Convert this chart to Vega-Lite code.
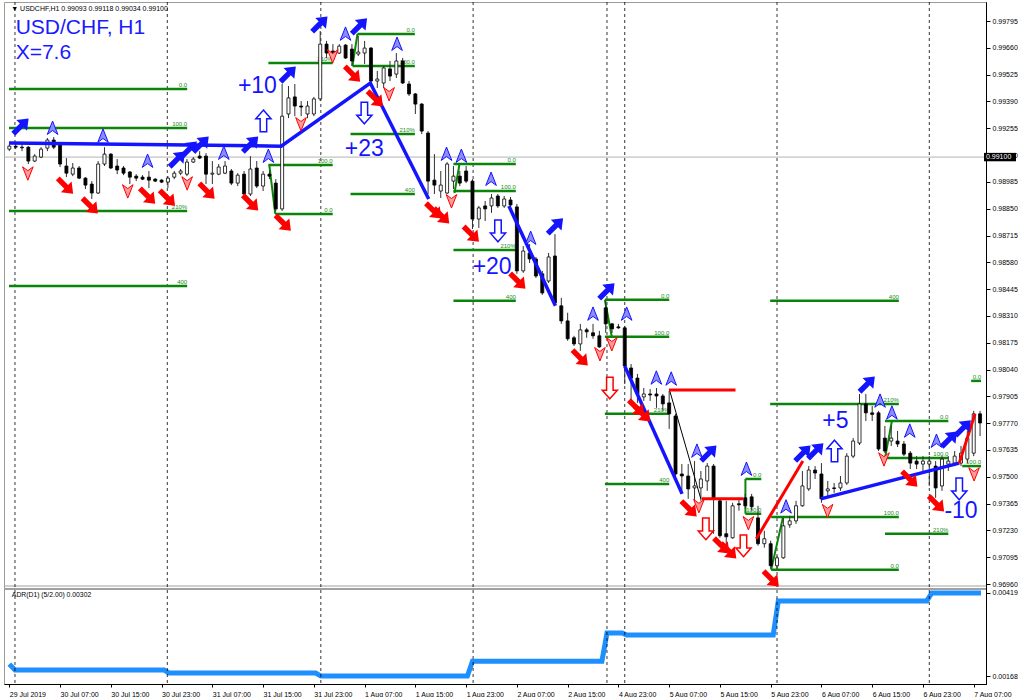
{
"$schema":"https://vega.github.io/schema/vega-lite/v6.json",
"background":"white",
"padding":{"left":3,"top":1,"right":0,"bottom":0},
"width":982,"height":682,
"config":{"view":{"stroke":"#9b9b9b"},
"axis":{"labelFont":"Liberation Sans","labelFontSize":7,"labelColor":"black","domainColor":"black","tickColor":"black","grid":false,"tickSize":4,"labelPadding":2,"labelOverlap":false},
"text":{"font":"Liberation Sans"}},
"resolve":{"scale":{"y":"independent"},"axis":{"y":"independent"}},
"datasets":{
"sep":[{"i":0.89},{"i":24.9},{"i":49.1},{"i":73.1},{"i":94.2},{"i":97.0},{"i":121.0},{"i":145.0}],
"candles":[
{"i":0,"o":0.9915,"h":0.99175,"l":0.9914,"c":0.99165},
{"i":1,"o":0.99165,"h":0.99181,"l":0.9915,"c":0.9916},
{"i":2,"o":0.9916,"h":0.99181,"l":0.9914,"c":0.99157},
{"i":3,"o":0.9916,"h":0.99165,"l":0.99075,"c":0.9909},
{"i":4,"o":0.9909,"h":0.99125,"l":0.99085,"c":0.99115},
{"i":5,"o":0.9911,"h":0.9916,"l":0.99105,"c":0.9915},
{"i":6,"o":0.99155,"h":0.99206,"l":0.9914,"c":0.99196},
{"i":7,"o":0.99196,"h":0.99211,"l":0.9915,"c":0.9916},
{"i":8,"o":0.99175,"h":0.99181,"l":0.9906,"c":0.99075},
{"i":9,"o":0.99065,"h":0.99105,"l":0.99009,"c":0.99029},
{"i":10,"o":0.99024,"h":0.9908,"l":0.99014,"c":0.99055},
{"i":11,"o":0.99055,"h":0.99065,"l":0.98999,"c":0.99004},
{"i":12,"o":0.99004,"h":0.99009,"l":0.98949,"c":0.98969},
{"i":13,"o":0.98974,"h":0.98989,"l":0.98899,"c":0.98929},
{"i":14,"o":0.98929,"h":0.9909,"l":0.98924,"c":0.99075},
{"i":15,"o":0.99075,"h":0.9916,"l":0.99065,"c":0.99125},
{"i":16,"o":0.99125,"h":0.9913,"l":0.9905,"c":0.99055},
{"i":17,"o":0.99065,"h":0.991,"l":0.99024,"c":0.99045},
{"i":18,"o":0.99055,"h":0.99065,"l":0.99019,"c":0.99029},
{"i":19,"o":0.99035,"h":0.9904,"l":0.98974,"c":0.99009},
{"i":20,"o":0.99014,"h":0.99024,"l":0.98989,"c":0.99004},
{"i":21,"o":0.99009,"h":0.99019,"l":0.98994,"c":0.98999},
{"i":22,"o":0.99009,"h":0.9904,"l":0.98954,"c":0.98994},
{"i":23,"o":0.98999,"h":0.99004,"l":0.98984,"c":0.98989},
{"i":24,"o":0.98994,"h":0.98999,"l":0.98979,"c":0.98984},
{"i":25,"o":0.98984,"h":0.99014,"l":0.98954,"c":0.99004},
{"i":26,"o":0.99009,"h":0.9904,"l":0.98999,"c":0.99029},
{"i":27,"o":0.99029,"h":0.9905,"l":0.99019,"c":0.9904},
{"i":28,"o":0.99024,"h":0.991,"l":0.99014,"c":0.99085},
{"i":29,"o":0.99085,"h":0.9911,"l":0.9908,"c":0.991},
{"i":30,"o":0.99115,"h":0.9914,"l":0.991,"c":0.99105},
{"i":31,"o":0.99115,"h":0.9913,"l":0.98974,"c":0.99024},
{"i":32,"o":0.99024,"h":0.9909,"l":0.98974,"c":0.99029},
{"i":33,"o":0.99024,"h":0.99075,"l":0.99019,"c":0.9906},
{"i":34,"o":0.99029,"h":0.9909,"l":0.99024,"c":0.99065},
{"i":35,"o":0.9904,"h":0.9905,"l":0.98969,"c":0.98979},
{"i":36,"o":0.98979,"h":0.99029,"l":0.98964,"c":0.99019},
{"i":37,"o":0.99024,"h":0.9904,"l":0.98914,"c":0.98924},
{"i":38,"o":0.98924,"h":0.99115,"l":0.98914,"c":0.9905},
{"i":39,"o":0.99055,"h":0.9909,"l":0.98954,"c":0.98964},
{"i":40,"o":0.98964,"h":0.9904,"l":0.98939,"c":0.99024},
{"i":41,"o":0.99024,"h":0.9904,"l":0.98999,"c":0.99014},
{"i":42,"o":0.98979,"h":0.98999,"l":0.98839,"c":0.98849},
{"i":43,"o":0.98849,"h":0.99478,"l":0.98839,"c":0.99316},
{"i":44,"o":0.99327,"h":0.99468,"l":0.99306,"c":0.99408},
{"i":45,"o":0.99413,"h":0.99478,"l":0.99316,"c":0.99367},
{"i":46,"o":0.99367,"h":0.99392,"l":0.99316,"c":0.99362},
{"i":47,"o":0.99327,"h":0.99392,"l":0.99306,"c":0.99367},
{"i":48,"o":0.99327,"h":0.99413,"l":0.99316,"c":0.99403},
{"i":49,"o":0.99403,"h":0.99745,"l":0.99392,"c":0.99679},
{"i":50,"o":0.99679,"h":0.99695,"l":0.99609,"c":0.99634},
{"i":51,"o":0.99644,"h":0.99679,"l":0.99609,"c":0.99634},
{"i":52,"o":0.99634,"h":0.99679,"l":0.99629,"c":0.99669},
{"i":53,"o":0.99674,"h":0.99679,"l":0.99604,"c":0.99609},
{"i":54,"o":0.99654,"h":0.99679,"l":0.99569,"c":0.99594},
{"i":55,"o":0.99629,"h":0.9972,"l":0.99619,"c":0.99639},
{"i":56,"o":0.99634,"h":0.99695,"l":0.99579,"c":0.99659},
{"i":57,"o":0.99659,"h":0.99664,"l":0.99478,"c":0.99493},
{"i":58,"o":0.99493,"h":0.99544,"l":0.99458,"c":0.99503},
{"i":59,"o":0.99483,"h":0.99569,"l":0.99458,"c":0.99559},
{"i":60,"o":0.99554,"h":0.99594,"l":0.99493,"c":0.99518},
{"i":61,"o":0.99528,"h":0.99634,"l":0.99508,"c":0.99594},
{"i":62,"o":0.99594,"h":0.99609,"l":0.99478,"c":0.99483},
{"i":63,"o":0.99478,"h":0.99493,"l":0.99418,"c":0.99428},
{"i":64,"o":0.99428,"h":0.99433,"l":0.99327,"c":0.99377},
{"i":65,"o":0.99377,"h":0.99382,"l":0.99226,"c":0.99241},
{"i":66,"o":0.99231,"h":0.99241,"l":0.98924,"c":0.98989},
{"i":67,"o":0.98994,"h":0.99125,"l":0.98924,"c":0.98969},
{"i":68,"o":0.98939,"h":0.9904,"l":0.98904,"c":0.98969},
{"i":69,"o":0.98929,"h":0.99085,"l":0.98924,"c":0.99075},
{"i":70,"o":0.98989,"h":0.99065,"l":0.98949,"c":0.99014},
{"i":71,"o":0.99014,"h":0.9904,"l":0.98964,"c":0.98979},
{"i":72,"o":0.9904,"h":0.99065,"l":0.98979,"c":0.98989},
{"i":73,"o":0.98989,"h":0.98999,"l":0.98748,"c":0.98798},
{"i":74,"o":0.98798,"h":0.98864,"l":0.98753,"c":0.98854},
{"i":75,"o":0.98864,"h":0.98889,"l":0.98788,"c":0.98849},
{"i":76,"o":0.98864,"h":0.98924,"l":0.98829,"c":0.98904},
{"i":77,"o":0.98914,"h":0.98924,"l":0.98854,"c":0.98864},
{"i":78,"o":0.98864,"h":0.98914,"l":0.98854,"c":0.98899},
{"i":79,"o":0.98894,"h":0.98909,"l":0.98839,"c":0.98869},
{"i":80,"o":0.98859,"h":0.98874,"l":0.98522,"c":0.98537},
{"i":81,"o":0.98537,"h":0.98662,"l":0.98527,"c":0.98637},
{"i":82,"o":0.98627,"h":0.98672,"l":0.98577,"c":0.98597},
{"i":83,"o":0.98597,"h":0.98607,"l":0.98501,"c":0.98511},
{"i":84,"o":0.98522,"h":0.98537,"l":0.98416,"c":0.98426},
{"i":85,"o":0.98486,"h":0.98627,"l":0.98476,"c":0.98607},
{"i":86,"o":0.98612,"h":0.98722,"l":0.98371,"c":0.98376},
{"i":87,"o":0.98361,"h":0.98401,"l":0.9827,"c":0.98285},
{"i":88,"o":0.98285,"h":0.98326,"l":0.98185,"c":0.98195},
{"i":89,"o":0.982,"h":0.9821,"l":0.98159,"c":0.98169},
{"i":90,"o":0.98169,"h":0.9827,"l":0.98134,"c":0.9824},
{"i":91,"o":0.9824,"h":0.9825,"l":0.982,"c":0.9823},
{"i":92,"o":0.98225,"h":0.9827,"l":0.98195,"c":0.9821},
{"i":93,"o":0.9821,"h":0.98235,"l":0.98149,"c":0.98154},
{"i":94,"o":0.98351,"h":0.98386,"l":0.98225,"c":0.9827},
{"i":95,"o":0.9827,"h":0.98275,"l":0.98225,"c":0.98245},
{"i":96,"o":0.98255,"h":0.9827,"l":0.98245,"c":0.9825},
{"i":97,"o":0.9825,"h":0.9826,"l":0.97967,"c":0.98058},
{"i":98,"o":0.98048,"h":0.98068,"l":0.97882,"c":0.97997},
{"i":99,"o":0.97997,"h":0.98018,"l":0.97872,"c":0.97917},
{"i":100,"o":0.97902,"h":0.97947,"l":0.97882,"c":0.97917},
{"i":101,"o":0.97917,"h":0.97942,"l":0.97882,"c":0.97912},
{"i":102,"o":0.97917,"h":0.97947,"l":0.97847,"c":0.97907},
{"i":103,"o":0.97907,"h":0.97917,"l":0.97832,"c":0.97867},
{"i":104,"o":0.97872,"h":0.97932,"l":0.97741,"c":0.97817},
{"i":105,"o":0.97806,"h":0.97817,"l":0.97494,"c":0.97514},
{"i":106,"o":0.97514,"h":0.97564,"l":0.97429,"c":0.97504},
{"i":107,"o":0.97504,"h":0.97564,"l":0.97389,"c":0.97439},
{"i":108,"o":0.97444,"h":0.97579,"l":0.97379,"c":0.97454},
{"i":109,"o":0.97444,"h":0.97529,"l":0.97379,"c":0.97489},
{"i":110,"o":0.97479,"h":0.97569,"l":0.97429,"c":0.97554},
{"i":111,"o":0.97554,"h":0.97564,"l":0.97213,"c":0.97389},
{"i":112,"o":0.97379,"h":0.97394,"l":0.97193,"c":0.97203},
{"i":113,"o":0.97213,"h":0.97379,"l":0.97163,"c":0.97198},
{"i":114,"o":0.97193,"h":0.97369,"l":0.97188,"c":0.97354},
{"i":115,"o":0.97364,"h":0.97394,"l":0.97329,"c":0.97359},
{"i":116,"o":0.97394,"h":0.97414,"l":0.97339,"c":0.97354},
{"i":117,"o":0.97399,"h":0.97414,"l":0.97329,"c":0.97349},
{"i":118,"o":0.97293,"h":0.97354,"l":0.97153,"c":0.97163},
{"i":119,"o":0.97163,"h":0.97228,"l":0.97143,"c":0.97188},
{"i":120,"o":0.97163,"h":0.97178,"l":0.97037,"c":0.97052},
{"i":121,"o":0.97052,"h":0.97102,"l":0.97037,"c":0.97092},
{"i":122,"o":0.97092,"h":0.97293,"l":0.97087,"c":0.97253},
{"i":123,"o":0.97258,"h":0.97303,"l":0.97243,"c":0.97278},
{"i":124,"o":0.97278,"h":0.97379,"l":0.97263,"c":0.97354},
{"i":125,"o":0.97354,"h":0.97529,"l":0.97349,"c":0.97454},
{"i":126,"o":0.97439,"h":0.97554,"l":0.97429,"c":0.97534},
{"i":127,"o":0.97534,"h":0.97554,"l":0.97489,"c":0.97519},
{"i":128,"o":0.97514,"h":0.97569,"l":0.97369,"c":0.97389},
{"i":129,"o":0.97429,"h":0.97479,"l":0.97404,"c":0.97439},
{"i":130,"o":0.97444,"h":0.97469,"l":0.97419,"c":0.97441},
{"i":131,"o":0.97444,"h":0.97504,"l":0.97429,"c":0.97469},
{"i":132,"o":0.97469,"h":0.97619,"l":0.97459,"c":0.97604},
{"i":133,"o":0.97604,"h":0.97695,"l":0.97594,"c":0.9768},
{"i":134,"o":0.9767,"h":0.97917,"l":0.9766,"c":0.97867},
{"i":135,"o":0.97867,"h":0.97917,"l":0.97781,"c":0.97822},
{"i":136,"o":0.97822,"h":0.97857,"l":0.97781,"c":0.97814},
{"i":137,"o":0.97822,"h":0.97832,"l":0.9763,"c":0.9764},
{"i":138,"o":0.97695,"h":0.97756,"l":0.9762,"c":0.9763},
{"i":139,"o":0.9768,"h":0.97756,"l":0.97655,"c":0.97695},
{"i":140,"o":0.9768,"h":0.97731,"l":0.9765,"c":0.97665},
{"i":141,"o":0.97665,"h":0.9768,"l":0.97604,"c":0.97614},
{"i":142,"o":0.97619,"h":0.9763,"l":0.97539,"c":0.97569},
{"i":143,"o":0.97579,"h":0.97604,"l":0.97539,"c":0.97564},
{"i":144,"o":0.97564,"h":0.97604,"l":0.97529,"c":0.97579},
{"i":145,"o":0.97564,"h":0.97604,"l":0.97454,"c":0.97579},
{"i":146,"o":0.97554,"h":0.97579,"l":0.97394,"c":0.97444},
{"i":147,"o":0.97454,"h":0.97604,"l":0.97429,"c":0.97589},
{"i":148,"o":0.97564,"h":0.97604,"l":0.97529,"c":0.97579},
{"i":149,"o":0.97569,"h":0.9763,"l":0.97554,"c":0.97604},
{"i":150,"o":0.97569,"h":0.97655,"l":0.97554,"c":0.97619},
{"i":151,"o":0.97589,"h":0.97731,"l":0.97569,"c":0.97695},
{"i":152,"o":0.97619,"h":0.97832,"l":0.97604,"c":0.97817},
{"i":153,"o":0.97817,"h":0.97832,"l":0.97705,"c":0.97771}
],
"levels":[
{"i":-0.05,"i2":28.03,"p":0.99453,"lab":"0.0"},
{"i":-0.05,"i2":28.03,"p":0.99256,"lab":"100.0"},
{"i":-0.05,"i2":28.03,"p":0.98839,"lab":"210%"},
{"i":-0.05,"i2":28.03,"p":0.98461,"lab":"400"},
{"i":54.87,"i2":63.92,"p":0.9973,"lab":"0.0"},
{"i":54.09,"i2":63.92,"p":0.99569,"lab":"100.0"},
{"i":40.83,"i2":50.97,"p":0.99584,"lab":"210%"},
{"i":40.83,"i2":50.97,"p":0.9907,"lab":"100.0"},
{"i":41.92,"i2":50.97,"p":0.98824,"lab":"0.0"},
{"i":53.78,"i2":63.92,"p":0.99226,"lab":"210%"},
{"i":53.78,"i2":63.92,"p":0.98924,"lab":"400"},
{"i":70.0,"i2":79.83,"p":0.99075,"lab":"0.0"},
{"i":70.0,"i2":79.83,"p":0.98939,"lab":"100.0"},
{"i":70.0,"i2":79.83,"p":0.98642,"lab":"210%"},
{"i":70.0,"i2":79.83,"p":0.98386,"lab":"400"},
{"i":93.87,"i2":104.01,"p":0.98391,"lab":"0.0"},
{"i":93.87,"i2":104.01,"p":0.98205,"lab":"100.0"},
{"i":93.87,"i2":104.01,"p":0.97817,"lab":"210%"},
{"i":93.87,"i2":104.01,"p":0.97464,"lab":"400"},
{"i":119.92,"i2":140.2,"p":0.98386,"lab":"400"},
{"i":119.92,"i2":140.2,"p":0.97867,"lab":"210%"},
{"i":120.08,"i2":140.2,"p":0.97298,"lab":"100.0"},
{"i":120.08,"i2":140.2,"p":0.97032,"lab":"0.0"},
{"i":116.02,"i2":118.52,"p":0.97489,"lab":"0.0"},
{"i":116.02,"i2":118.52,"p":0.97314,"lab":"100.0"},
{"i":138.02,"i2":148.0,"p":0.97781,"lab":"0.0"},
{"i":138.02,"i2":148.0,"p":0.97594,"lab":"100.0"},
{"i":138.02,"i2":148.0,"p":0.97213,"lab":"210%"},
{"i":151.6,"i2":153.15,"p":0.97983,"lab":"0.0"},
{"i":150.2,"i2":153.15,"p":0.97554,"lab":"100.0"}
],
"conn":[
{"g":1,"k":0,"i":40.98,"p":0.9907},{"g":1,"k":1,"i":41.92,"p":0.98824},
{"g":2,"k":0,"i":54.87,"p":0.9973},{"g":2,"k":1,"i":54.09,"p":0.99569},
{"g":3,"k":0,"i":70.93,"p":0.9907},{"g":3,"k":1,"i":70.16,"p":0.98929},
{"g":4,"k":0,"i":93.87,"p":0.98391},{"g":4,"k":1,"i":94.96,"p":0.98205},
{"g":5,"k":0,"i":116.02,"p":0.97489},{"g":5,"k":1,"i":116.02,"p":0.97314},
{"g":6,"k":0,"i":120.08,"p":0.97032},{"g":6,"k":1,"i":121.95,"p":0.97298},
{"g":7,"k":0,"i":139.11,"p":0.97781},{"g":7,"k":1,"i":138.02,"p":0.97594}
],
"blue":[
{"g":1,"k":0,"i":-0.05,"p":0.99181},{"g":1,"k":1,"i":42.85,"p":0.99165},{"g":1,"k":2,"i":56.9,"p":0.99483},{"g":1,"k":3,"i":66.1,"p":0.98899},
{"g":2,"k":0,"i":78.74,"p":0.98864},{"g":2,"k":1,"i":86.07,"p":0.98361},
{"g":3,"k":0,"i":96.99,"p":0.98058},{"g":3,"k":1,"i":106.04,"p":0.97414},
{"g":4,"k":0,"i":127.88,"p":0.97389},{"g":4,"k":1,"i":149.72,"p":0.97569}
],
"redl":[
{"g":1,"k":0,"i":117.74,"p":0.97188},{"g":1,"k":1,"i":125.07,"p":0.97579},
{"g":2,"k":0,"i":149.72,"p":0.97569},{"g":2,"k":1,"i":152.21,"p":0.97817}
],
"arr":[
{"t":"bu","i":1.83,"p":0.99266},{"t":"bu","i":26.48,"p":0.991},{"t":"bu","i":28.35,"p":0.9915},{"t":"bu","i":30.22,"p":0.99175},{"t":"bu","i":38.02,"p":0.99175},{"t":"bu","i":43.95,"p":0.99528},{"t":"bu","i":48.94,"p":0.9978},{"t":"bu","i":55.18,"p":0.9977},{"t":"bu","i":86.07,"p":0.98763},{"t":"bu","i":94.18,"p":0.98436},{"t":"bu","i":110.25,"p":0.97619},{"t":"bu","i":125.07,"p":0.97619},{"t":"bu","i":127.1,"p":0.9763},{"t":"bu","i":135.21,"p":0.97967},{"t":"bu","i":148.16,"p":0.9769},{"t":"bu","i":150.34,"p":0.97746},
{"t":"ba","i":6.82,"p":0.99256},{"t":"ba","i":14.77,"p":0.99216},{"t":"ba","i":21.79,"p":0.9909},{"t":"ba","i":33.81,"p":0.9913},{"t":"ba","i":40.83,"p":0.99115},{"t":"ba","i":52.99,"p":0.9973},{"t":"ba","i":61.11,"p":0.99679},{"t":"ba","i":68.91,"p":0.99125},{"t":"ba","i":71.25,"p":0.99115},{"t":"ba","i":75.93,"p":0.98999},{"t":"ba","i":82.17,"p":0.98702},{"t":"ba","i":92.0,"p":0.9832},{"t":"ba","i":97.3,"p":0.9832},{"t":"ba","i":101.98,"p":0.97998},{"t":"ba","i":104.32,"p":0.97993},{"t":"ba","i":108.38,"p":0.9763},{"t":"ba","i":116.18,"p":0.97539},{"t":"ba","i":122.42,"p":0.97349},{"t":"ba","i":137.24,"p":0.97882},{"t":"ba","i":139.11,"p":0.97822},{"t":"ba","i":141.92,"p":0.97731},{"t":"ba","i":146.13,"p":0.9768},
{"t":"rd","i":8.85,"p":0.98964},{"t":"rd","i":12.75,"p":0.98864},{"t":"rd","i":21.79,"p":0.98914},{"t":"rd","i":24.91,"p":0.98904},{"t":"rd","i":31.15,"p":0.98939},{"t":"rd","i":38.02,"p":0.98879},{"t":"rd","i":43.17,"p":0.98778},{"t":"rd","i":54.09,"p":0.99528},{"t":"rd","i":57.68,"p":0.99403},{"t":"rd","i":66.88,"p":0.98839},{"t":"rd","i":68.13,"p":0.98814},{"t":"rd","i":72.81,"p":0.98722},{"t":"rd","i":80.14,"p":0.98486},{"t":"rd","i":89.97,"p":0.98099},{"t":"rd","i":98.86,"p":0.97847},{"t":"rd","i":99.8,"p":0.97817},{"t":"rd","i":107.13,"p":0.97339},{"t":"rd","i":112.28,"p":0.97152},{"t":"rd","i":113.37,"p":0.97127},{"t":"rd","i":120.08,"p":0.96986},{"t":"rd","i":141.92,"p":0.97489},{"t":"rd","i":146.13,"p":0.97364},
{"t":"ra","i":2.92,"p":0.99029},{"t":"ra","i":18.67,"p":0.98939},{"t":"ra","i":28.03,"p":0.98979},{"t":"ra","i":45.97,"p":0.99277},{"t":"ra","i":50.97,"p":0.99619},{"t":"ra","i":59.86,"p":0.99428},{"t":"ra","i":69.69,"p":0.98889},{"t":"ra","i":93.09,"p":0.98119},{"t":"ra","i":94.96,"p":0.98169},{"t":"ra","i":108.69,"p":0.97354},{"t":"ra","i":116.49,"p":0.97268},{"t":"ra","i":128.97,"p":0.97329},{"t":"ra","i":137.86,"p":0.97589},{"t":"ra","i":152.06,"p":0.97514},
{"t":"rh","i":94.65,"p":0.97947},{"t":"rh","i":109.78,"p":0.97238},{"t":"rh","i":115.71,"p":0.97152},
{"t":"bhu","i":40.05,"p":0.99292},{"t":"bhu","i":130.06,"p":0.9763},
{"t":"bhd","i":55.96,"p":0.99332},{"t":"bhd","i":77.02,"p":0.98738},{"t":"bhd","i":149.72,"p":0.97439}
],
"adr":[
{"i":0,"v":0.00204},{"i":0.9,"v":0.00186},{"i":24.4,"v":0.00186},{"i":25.2,"v":0.00177},{"i":48.3,"v":0.00177},{"i":49.1,"v":0.00168},{"i":72.2,"v":0.00168},{"i":73.0,"v":0.00213},{"i":93.4,"v":0.00213},{"i":94.2,"v":0.00298},{"i":96.6,"v":0.00298},{"i":97.3,"v":0.00292},{"i":120.4,"v":0.00292},{"i":121.2,"v":0.00395},{"i":144.6,"v":0.00395},{"i":145.4,"v":0.00419},{"i":153.15,"v":0.00419}
]
},
"layer":[
{"data":{"name":"adr"},"mark":{"type":"line","color":"#1e8fff","strokeWidth":5,"clip":true},
 "encoding":{"x":{"field":"i","type":"quantitative","scale":{"domain":[-0.05,153.15],"nice":false,"zero":false},
  "axis":{"title":null,"values":[0,8,16,24,32,40,48,56,64,72,80,88,96,104,112,120,128,136,144,152],"labelAlign":"left","labelOverlap":false,"labelFlush":false,"tickSize":3,"labelPadding":3,
  "labelExpr":"['29 Jul 2019','30 Jul 07:00','30 Jul 15:00','30 Jul 23:00','31 Jul 07:00','31 Jul 15:00','31 Jul 23:00','1 Aug 07:00','1 Aug 15:00','1 Aug 23:00','2 Aug 07:00','2 Aug 15:00','4 Aug 23:00','5 Aug 07:00','5 Aug 15:00','5 Aug 23:00','6 Aug 07:00','6 Aug 15:00','6 Aug 23:00','7 Aug 07:00'][round(datum.value/8)]"}},
 "y":{"field":"v","type":"quantitative","scale":{"domain":[0.00144,0.022043],"nice":false,"zero":false},
  "axis":{"orient":"right","title":null,"format":".5f","values":[0.00168,0.00419],"labelOverlap":false}}}},
{"data":{"values":[{"t":"ADR(D1) (5/2.00) 0.00302","i":0.4,"v":0.00413}]},
 "mark":{"type":"text","fontSize":6.8,"color":"#000000","align":"left","baseline":"middle"},
 "encoding":{"x":{"field":"i","type":"quantitative","scale":{"domain":[-0.05,153.15],"nice":false,"zero":false}},
 "y":{"field":"v","type":"quantitative","scale":{"domain":[0.00144,0.022043],"nice":false,"zero":false},"axis":null},"text":{"field":"t"}}},
{"data":{"values":[{"v":0.00431}]},"mark":{"type":"rule","color":"#a0a0a0","strokeWidth":2},
 "encoding":{"y":{"field":"v","type":"quantitative","scale":{"domain":[0.00144,0.022043],"nice":false,"zero":false},"axis":null}}},
{"data":{"values":[{"p":0.9695}]},"mark":{"type":"rule","color":"#a0a0a0","strokeWidth":1},
 "encoding":{"y":{"field":"p","type":"quantitative","scale":{"domain":[0.964565,0.99891],"nice":false,"zero":false},"axis":null}}},
{"data":{"name":"sep"},"mark":{"type":"rule","strokeDash":[3,3],"color":"#000000","strokeWidth":1,"opacity":0.8},
 "encoding":{"x":{"field":"i","type":"quantitative","scale":{"domain":[-0.05,153.15],"nice":false,"zero":false}}}},
{"data":{"values":[{"p":0.9911}]},"mark":{"type":"rule","color":"#b4b4b4","strokeWidth":1},
 "encoding":{"y":{"field":"p","type":"quantitative","scale":{"domain":[0.964565,0.99891],"nice":false,"zero":false},"axis":null}}},
{"data":{"name":"levels"},"mark":{"type":"rule","color":"#0a850a","strokeWidth":2.5,"clip":true},
 "encoding":{"x":{"field":"i","type":"quantitative","scale":{"domain":[-0.05,153.15],"nice":false,"zero":false}},"x2":{"field":"i2"},
 "y":{"field":"p","type":"quantitative","scale":{"domain":[0.964565,0.99891],"nice":false,"zero":false},"axis":null}}},
{"data":{"name":"levels"},"mark":{"type":"text","color":"#1a8a1a","fontSize":6,"align":"right","baseline":"bottom","dy":-1},
 "encoding":{"x":{"field":"i2","type":"quantitative","scale":{"domain":[-0.05,153.15],"nice":false,"zero":false}},
 "y":{"field":"p","type":"quantitative","scale":{"domain":[0.964565,0.99891],"nice":false,"zero":false},"axis":null},"text":{"field":"lab"}}},
{"data":{"name":"conn"},"mark":{"type":"line","color":"#0a850a","strokeWidth":2},
 "encoding":{"x":{"field":"i","type":"quantitative","scale":{"domain":[-0.05,153.15],"nice":false,"zero":false}},
 "y":{"field":"p","type":"quantitative","scale":{"domain":[0.964565,0.99891],"nice":false,"zero":false},"axis":null},"detail":{"field":"g"},"order":{"field":"k"}}},
{"data":{"name":"candles"},"mark":{"type":"rule","color":"#303030","strokeWidth":1,"clip":true},
 "encoding":{"x":{"field":"i","type":"quantitative","scale":{"domain":[-0.05,153.15],"nice":false,"zero":false}},
 "y":{"field":"l","type":"quantitative","scale":{"domain":[0.964565,0.99891],"nice":false,"zero":false},
  "axis":{"orient":"right","title":null,"format":".5f","labelOverlap":false,"values":[0.9696,0.97095,0.9723,0.97365,0.975,0.97635,0.9777,0.97905,0.9804,0.98175,0.9831,0.98445,0.9858,0.98715,0.9885,0.98985,0.9912,0.99255,0.9939,0.99525,0.9966,0.99795]}},
 "y2":{"field":"h"}}},
{"data":{"name":"candles"},"mark":{"type":"bar","width":3,"stroke":"#000000","strokeWidth":0.8,"clip":true},
 "encoding":{"x":{"field":"i","type":"quantitative","scale":{"domain":[-0.05,153.15],"nice":false,"zero":false}},
 "y":{"field":"o","type":"quantitative","scale":{"domain":[0.964565,0.99891],"nice":false,"zero":false},"axis":null},"y2":{"field":"c"},
 "fill":{"condition":{"test":"datum.c > datum.o","value":"#ffffff"},"value":"#000000"}}},
{"data":{"name":"blue"},"mark":{"type":"line","color":"#1414ff","strokeWidth":3.5,"clip":true},
 "encoding":{"x":{"field":"i","type":"quantitative","scale":{"domain":[-0.05,153.15],"nice":false,"zero":false}},
 "y":{"field":"p","type":"quantitative","scale":{"domain":[0.964565,0.99891],"nice":false,"zero":false},"axis":null},"detail":{"field":"g"},"order":{"field":"k"}}},
{"data":{"name":"redl"},"mark":{"type":"line","color":"#ff0000","strokeWidth":3},
 "encoding":{"x":{"field":"i","type":"quantitative","scale":{"domain":[-0.05,153.15],"nice":false,"zero":false}},
 "y":{"field":"p","type":"quantitative","scale":{"domain":[0.964565,0.99891],"nice":false,"zero":false},"axis":null},"detail":{"field":"g"},"order":{"field":"k"}}},
{"data":{"values":[{"i":104.01,"p":0.97942},{"i":108.99,"p":0.97389}]},"mark":{"type":"line","color":"#000000","strokeWidth":1},
 "encoding":{"x":{"field":"i","type":"quantitative","scale":{"domain":[-0.05,153.15],"nice":false,"zero":false}},
 "y":{"field":"p","type":"quantitative","scale":{"domain":[0.964565,0.99891],"nice":false,"zero":false},"axis":null}}},
{"data":{"values":[{"i":104.01,"i2":114.46,"p":0.97937},{"i":109.15,"i2":115.71,"p":0.97389}]},"mark":{"type":"rule","color":"#ff0000","strokeWidth":3},
 "encoding":{"x":{"field":"i","type":"quantitative","scale":{"domain":[-0.05,153.15],"nice":false,"zero":false}},"x2":{"field":"i2"},
 "y":{"field":"p","type":"quantitative","scale":{"domain":[0.964565,0.99891],"nice":false,"zero":false},"axis":null}}},
{"data":{"name":"arr"},"transform":[{"filter":"datum.t=='bu'"}],"mark":{"type":"point","shape":"M-0.884,0.53L-0.106,-0.247L-0.424,-0.566L0.707,-0.707L0.566,0.424L0.247,0.106L-0.53,0.884Z","size":470,"filled":true,"color":"#1414ff","opacity":1},
 "encoding":{"x":{"field":"i","type":"quantitative","scale":{"domain":[-0.05,153.15],"nice":false,"zero":false}},
 "y":{"field":"p","type":"quantitative","scale":{"domain":[0.964565,0.99891],"nice":false,"zero":false},"axis":null}}},
{"data":{"name":"arr"},"transform":[{"filter":"datum.t=='rd'"}],"mark":{"type":"point","shape":"M-0.884,-0.53L-0.106,0.247L-0.424,0.566L0.707,0.707L0.566,-0.424L0.247,-0.106L-0.53,-0.884Z","size":470,"filled":true,"color":"#ff0000","opacity":1},
 "encoding":{"x":{"field":"i","type":"quantitative","scale":{"domain":[-0.05,153.15],"nice":false,"zero":false}},
 "y":{"field":"p","type":"quantitative","scale":{"domain":[0.964565,0.99891],"nice":false,"zero":false},"axis":null}}},
{"data":{"name":"arr"},"transform":[{"filter":"datum.t=='rh'"}],"mark":{"type":"point","shape":"M0,1L0.7,0.2L0.3,0.2L0.3,-1L-0.3,-1L-0.3,0.2L-0.7,0.2Z","size":470,"filled":true,"fill":"#ffffff","stroke":"#ff0000","strokeWidth":1.5,"opacity":1},
 "encoding":{"x":{"field":"i","type":"quantitative","scale":{"domain":[-0.05,153.15],"nice":false,"zero":false}},
 "y":{"field":"p","type":"quantitative","scale":{"domain":[0.964565,0.99891],"nice":false,"zero":false},"axis":null}}},
{"data":{"name":"arr"},"transform":[{"filter":"datum.t=='bhd'"}],"mark":{"type":"point","shape":"M0,1L0.7,0.2L0.3,0.2L0.3,-1L-0.3,-1L-0.3,0.2L-0.7,0.2Z","size":470,"filled":true,"fill":"#ffffff","stroke":"#1414ff","strokeWidth":1.5,"opacity":1},
 "encoding":{"x":{"field":"i","type":"quantitative","scale":{"domain":[-0.05,153.15],"nice":false,"zero":false}},
 "y":{"field":"p","type":"quantitative","scale":{"domain":[0.964565,0.99891],"nice":false,"zero":false},"axis":null}}},
{"data":{"name":"arr"},"transform":[{"filter":"datum.t=='bhu'"}],"mark":{"type":"point","shape":"M0,-1L0.7,-0.2L0.3,-0.2L0.3,1L-0.3,1L-0.3,-0.2L-0.7,-0.2Z","size":470,"filled":true,"fill":"#ffffff","stroke":"#1414ff","strokeWidth":1.5,"opacity":1},
 "encoding":{"x":{"field":"i","type":"quantitative","scale":{"domain":[-0.05,153.15],"nice":false,"zero":false}},
 "y":{"field":"p","type":"quantitative","scale":{"domain":[0.964565,0.99891],"nice":false,"zero":false},"axis":null}}},
{"data":{"name":"arr"},"transform":[{"filter":"datum.t=='ba'"}],"mark":{"type":"point","shape":"M0,-1L0.75,0.9L0,0.35L-0.75,0.9Z","size":200,"filled":true,"fill":"#8c8cff","stroke":"#1414ff","strokeWidth":1,"opacity":1},
 "encoding":{"x":{"field":"i","type":"quantitative","scale":{"domain":[-0.05,153.15],"nice":false,"zero":false}},
 "y":{"field":"p","type":"quantitative","scale":{"domain":[0.964565,0.99891],"nice":false,"zero":false},"axis":null}}},
{"data":{"name":"arr"},"transform":[{"filter":"datum.t=='ra'"}],"mark":{"type":"point","shape":"M0,1L0.75,-0.9L0,-0.35L-0.75,-0.9Z","size":200,"filled":true,"fill":"#ff9a9a","stroke":"#ff0000","strokeWidth":1,"opacity":1},
 "encoding":{"x":{"field":"i","type":"quantitative","scale":{"domain":[-0.05,153.15],"nice":false,"zero":false}},
 "y":{"field":"p","type":"quantitative","scale":{"domain":[0.964565,0.99891],"nice":false,"zero":false},"axis":null}}},
{"data":{"values":[{"t":"+10","i":39.1,"p":0.99468},{"t":"+23","i":55.96,"p":0.9915},{"t":"+20","i":76.1,"p":0.98557},{"t":"+5","i":130.2,"p":0.97781},{"t":"-10","i":150.0,"p":0.97329}]},
 "mark":{"type":"text","fontSize":23,"color":"#1414ff","align":"center","baseline":"middle"},
 "encoding":{"x":{"field":"i","type":"quantitative","scale":{"domain":[-0.05,153.15],"nice":false,"zero":false}},
 "y":{"field":"p","type":"quantitative","scale":{"domain":[0.964565,0.99891],"nice":false,"zero":false},"axis":null},"text":{"field":"t"}}},
{"data":{"values":[{"t":"USD/CHF, H1","i":1.0,"p":0.99758},{"t":"X=7.6","i":1.0,"p":0.99634}]},
 "mark":{"type":"text","fontSize":21,"color":"#1a1aff","align":"left","baseline":"middle"},
 "encoding":{"x":{"field":"i","type":"quantitative","scale":{"domain":[-0.05,153.15],"nice":false,"zero":false}},
 "y":{"field":"p","type":"quantitative","scale":{"domain":[0.964565,0.99891],"nice":false,"zero":false},"axis":null},"text":{"field":"t"}}},
{"data":{"values":[{"t":"▼ USDCHF,H1  0.99093 0.99118 0.99034 0.99100","i":0.3,"p":0.99856}]},
 "mark":{"type":"text","fontSize":7,"color":"#000000","align":"left","baseline":"middle"},
 "encoding":{"x":{"field":"i","type":"quantitative","scale":{"domain":[-0.05,153.15],"nice":false,"zero":false}},
 "y":{"field":"p","type":"quantitative","scale":{"domain":[0.964565,0.99891],"nice":false,"zero":false},"axis":null},"text":{"field":"t"}}},
{"data":{"values":[{"p":0.9911,"t":"0.99100"}]},
 "mark":{"type":"point","shape":"M0.15,-0.21H1.75V0.21H0.15Z","size":1600,"filled":true,"color":"#000000","opacity":1},
 "encoding":{"x":{"datum":153.15,"type":"quantitative","scale":{"domain":[-0.05,153.15],"nice":false,"zero":false}},
 "y":{"field":"p","type":"quantitative","scale":{"domain":[0.964565,0.99891],"nice":false,"zero":false},"axis":null}}},
{"data":{"values":[{"p":0.9911,"t":"0.99100"}]},
 "mark":{"type":"text","fontSize":7,"color":"#ffffff","align":"left","baseline":"middle","dx":5},
 "encoding":{"x":{"datum":153.15,"type":"quantitative","scale":{"domain":[-0.05,153.15],"nice":false,"zero":false}},
 "y":{"field":"p","type":"quantitative","scale":{"domain":[0.964565,0.99891],"nice":false,"zero":false},"axis":null},"text":{"field":"t"}}}
]
}
